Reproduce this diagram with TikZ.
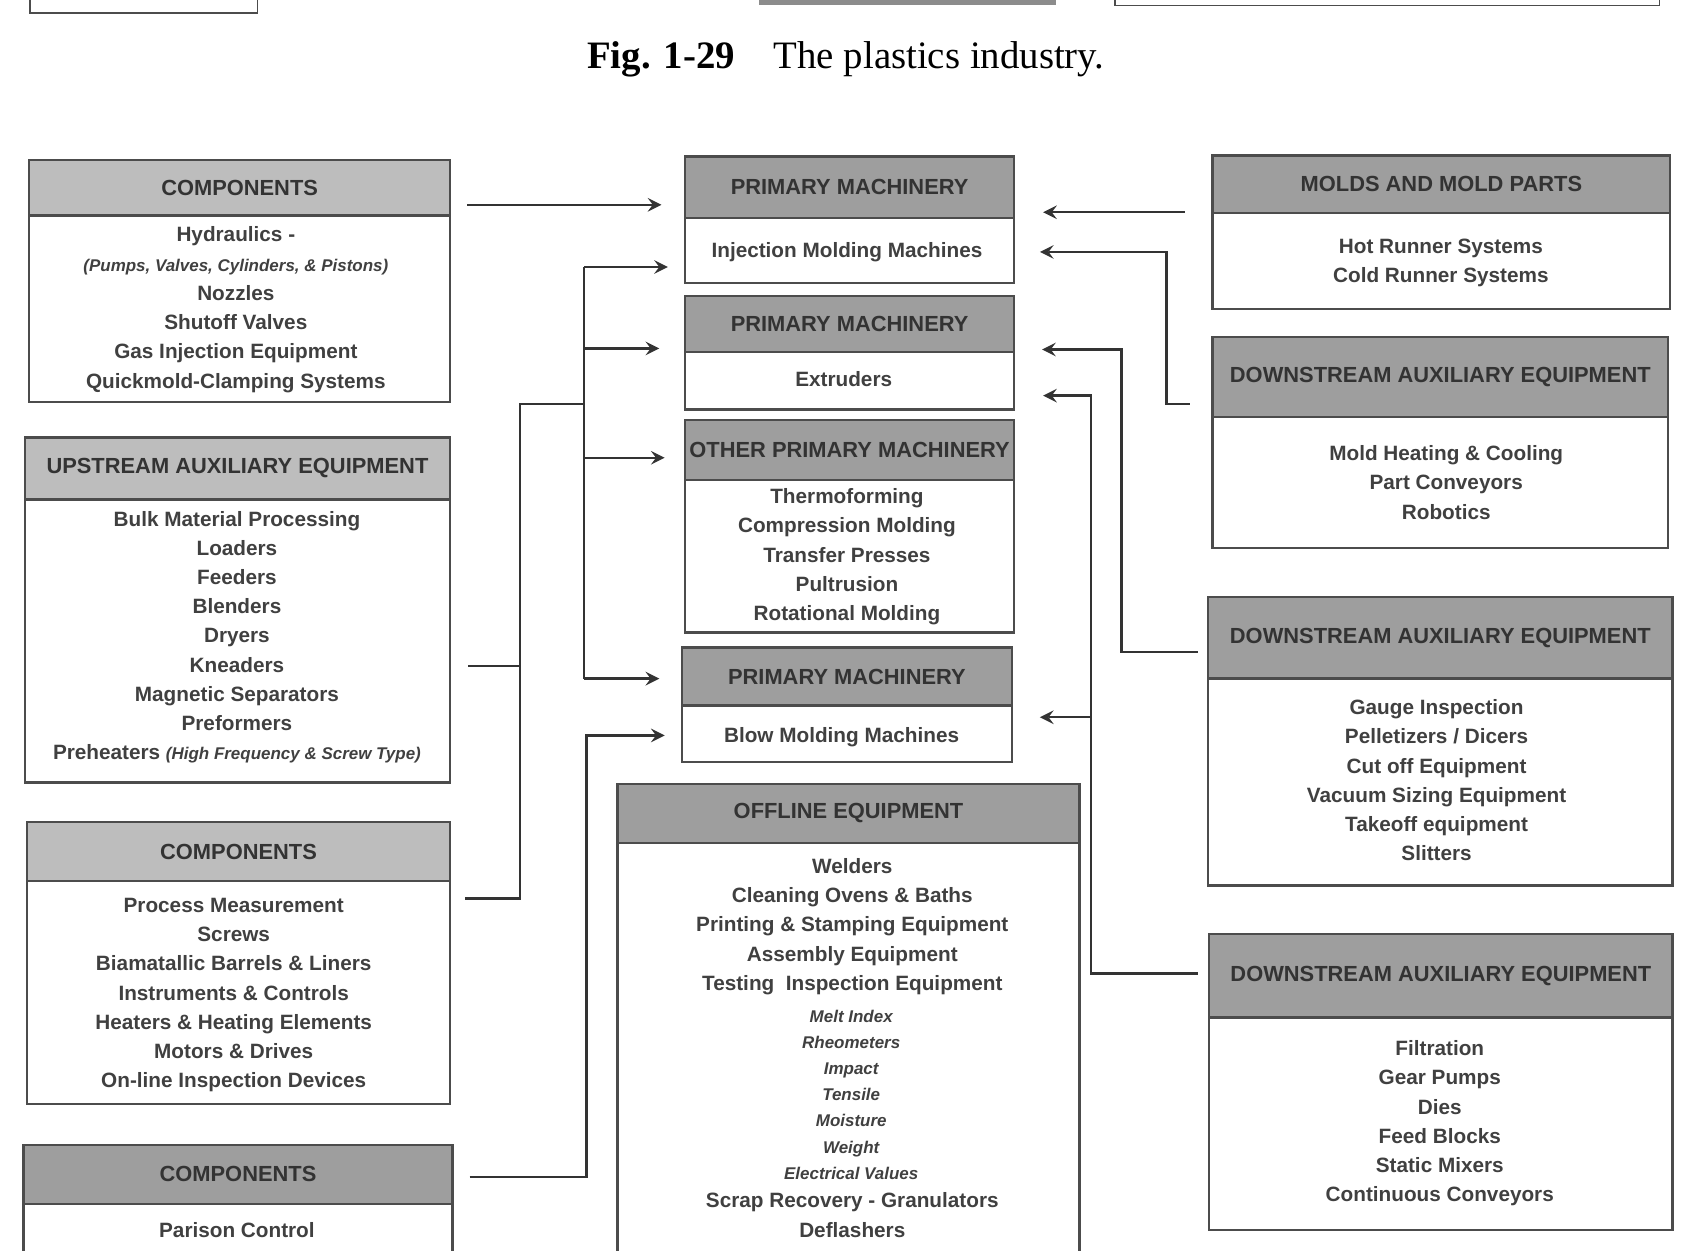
\documentclass[tikz,border=0pt]{standalone}
\usepackage{fontspec}
\setmainfont{Liberation Sans}
\newfontfamily\capfont{Liberation Serif}
\usetikzlibrary{calc}
\definecolor{hdrgray}{gray}{0.62}
\definecolor{hdrlight}{gray}{0.74}
\definecolor{txtgray}{gray}{0.25}
\tikzset{
  hdr/.style={draw=black!70,line width=.6pt,fill=hdrgray},
  hdrl/.style={hdr,fill=hdrlight},
  bdy/.style={draw=black!70,line width=.6pt,fill=white},
  ttl/.style={font=\bfseries\fontsize{5.8}{7}\selectfont,text=black!80},
  lst/.style={font=\bfseries\fontsize{5.5}{7.75}\selectfont,text=txtgray,align=center,anchor=north,inner sep=0pt},
  wire/.style={line width=.6pt,black!80},
  arr/.style={wire,-stealth}
}
% box: name, x1, y1, header bottom, y2, x2, header style, title
\newcommand\plbox[8]{%
  \draw[#7] (#2,#3) rectangle (#6,#4);
  \draw[bdy] (#2,#4) rectangle (#6,#5);
  \node[ttl] (#1) at ({(#2+#6)/2},{(#3+#4)/2}) {#8};
  \coordinate (#1-w) at (#2,{(#3+#4)/2});
}
\newcommand\sm[1]{{\itshape\fontsize{4.5}{7.75}\selectfont #1}}
\begin{document}
\begin{tikzpicture}[x=0.01cm,y=-0.01cm]
  \useasboundingbox (0,0) rectangle (1568,1166);
  % remains of the previous figure
  \draw[black!70] (28,0) -- (28,12) -- (240,12) -- (240,0);
  \fill[black!45] (708,0) rectangle (985,5);
  \draw[black!70] (1040,0) -- (1040,5) -- (1548,5) -- (1548,0);
  \node[font=\capfont\fontsize{10.3}{12}\selectfont] (cap) at (789,55) {\textbf{Fig. 1-29}\quad The plastics industry.};

  % left column
  \plbox{comp1}{27}{149}{201}{375}{420}{hdrl}{COMPONENTS}
  \node[lst] (comp1l) at (220,211) {Hydraulics -\\ \sm{(Pumps, Valves, Cylinders, \& Pistons)}\\ Nozzles\\ Shutoff Valves\\ Gas Injection Equipment\\ Quickmold-Clamping Systems};
  \plbox{up}{23}{408}{466}{730}{420}{hdrl}{UPSTREAM AUXILIARY EQUIPMENT}
  \node[lst] (upl) at (221,476) {Bulk Material Processing\\ Loaders\\ Feeders\\ Blenders\\ Dryers\\ Kneaders\\ Magnetic Separators\\ Preformers\\ Preheaters \sm{(High Frequency \& Screw Type)}};
  \plbox{comp2}{25}{767}{822}{1030}{420}{hdrl}{COMPONENTS}
  \node[lst] (comp2l) at (218,837) {Process Measurement\\ Screws\\ Biamatallic Barrels \& Liners\\ Instruments \& Controls\\ Heaters \& Heating Elements\\ Motors \& Drives\\ On-line Inspection Devices};
  \plbox{comp3}{22}{1068}{1123}{1180}{422}{hdr}{COMPONENTS}
  \node[lst] (comp3l) at (221,1140) {Parison Control};

  % middle column
  \plbox{pm1}{639}{146}{203}{264}{946}{hdr}{PRIMARY MACHINERY}
  \node[lst] (pm1l) at (790,225) {Injection Molding Machines};
  \plbox{pm2}{639}{276}{328}{382}{946}{hdr}{PRIMARY MACHINERY}
  \node[lst] (pm2l) at (787,346) {Extruders};
  \plbox{pm3}{639}{392}{448}{590}{946}{hdr}{OTHER PRIMARY MACHINERY}
  \node[lst] (pm3l) at (790,455) {Thermoforming\\ Compression Molding\\ Transfer Presses\\ Pultrusion\\ Rotational Molding};
  \plbox{pm4}{636}{604}{658}{711}{944}{hdr}{PRIMARY MACHINERY}
  \node[lst] (pm4l) at (785,678) {Blow Molding Machines};
  \plbox{off}{576}{731}{786}{1180}{1007}{hdr}{OFFLINE EQUIPMENT}
  \node[lst] (offl) at (795,800) {Welders\\ Cleaning Ovens \& Baths\\ Printing \& Stamping Equipment\\ Assembly Equipment\\ Testing\ \ Inspection Equipment};
  \node[lst,font=\bfseries\itshape\fontsize{4.5}{6.9}\selectfont] (offi) at (794,942) {Melt Index\\ Rheometers\\ Impact\\ Tensile\\ Moisture\\ Weight\\ Electrical Values};
  \node[lst] (offl2) at (795,1112) {Scrap Recovery - Granulators\\ Deflashers};

  % right column
  \plbox{mold}{1131}{145}{199}{288}{1558}{hdr}{MOLDS AND MOLD PARTS}
  \node[lst] (moldl) at (1344,222) {Hot Runner Systems\\ Cold Runner Systems};
  \plbox{dn1}{1131}{314}{389}{511}{1556}{hdr}{DOWNSTREAM AUXILIARY EQUIPMENT}
  \node[lst] (dn1l) at (1349,415) {Mold Heating \& Cooling\\ Part Conveyors\\ Robotics};
  \plbox{dn2}{1127}{557}{633}{826}{1560}{hdr}{DOWNSTREAM AUXILIARY EQUIPMENT}
  \node[lst] (dn2l) at (1340,652) {Gauge Inspection\\ Pelletizers / Dicers\\ Cut off Equipment\\ Vacuum Sizing Equipment\\ Takeoff equipment\\ Slitters};
  \plbox{dn3}{1128}{871}{949}{1147}{1560}{hdr}{DOWNSTREAM AUXILIARY EQUIPMENT}
  \node[lst] (dn3l) at (1343,970) {Filtration\\ Gear Pumps\\ Dies\\ Feed Blocks\\ Static Mixers\\ Continuous Conveyors};

  % left connectors
  \coordinate (a1) at (436,191); \coordinate (a1e) at (617,191);
  \draw[arr] (a1) -- (a1e);
  \coordinate (busT) at (545,249); \coordinate (busB) at (545,633);
  \draw[wire] (busT) -- (busB);
  \draw[arr] (busT) -- (623,249);
  \draw[arr] (545,325) -- (615,325);
  \draw[arr] (545,427) -- (620,427);
  \draw[arr] (busB) -- (615,633);
  \coordinate (bus2T) at (485,377); \coordinate (bus2B) at (485,838);
  \draw[wire] (545,377) -- (bus2T) -- (bus2B) -- (434,838);
  \draw[wire] (437,621) -- (485,621);
  \coordinate (c3) at (438,1098);
  \draw[arr] (c3) -- (547,1098) -- (547,686) -- (620,686);

  % right connectors
  \draw[arr] (1105,198) -- (973,198);
  \draw[arr] (1110,377) -- (1088,377) -- (1088,235) -- (970,235);
  \draw[arr] (1117,608) -- (1046,608) -- (1046,326) -- (972,326);
  \coordinate (d3) at (1117,908);
  \draw[arr] (d3) -- (1018,908) -- (1018,369) -- (973,369);
  \draw[arr] (1018,669) -- (970,669);
\end{tikzpicture}
\end{document}
